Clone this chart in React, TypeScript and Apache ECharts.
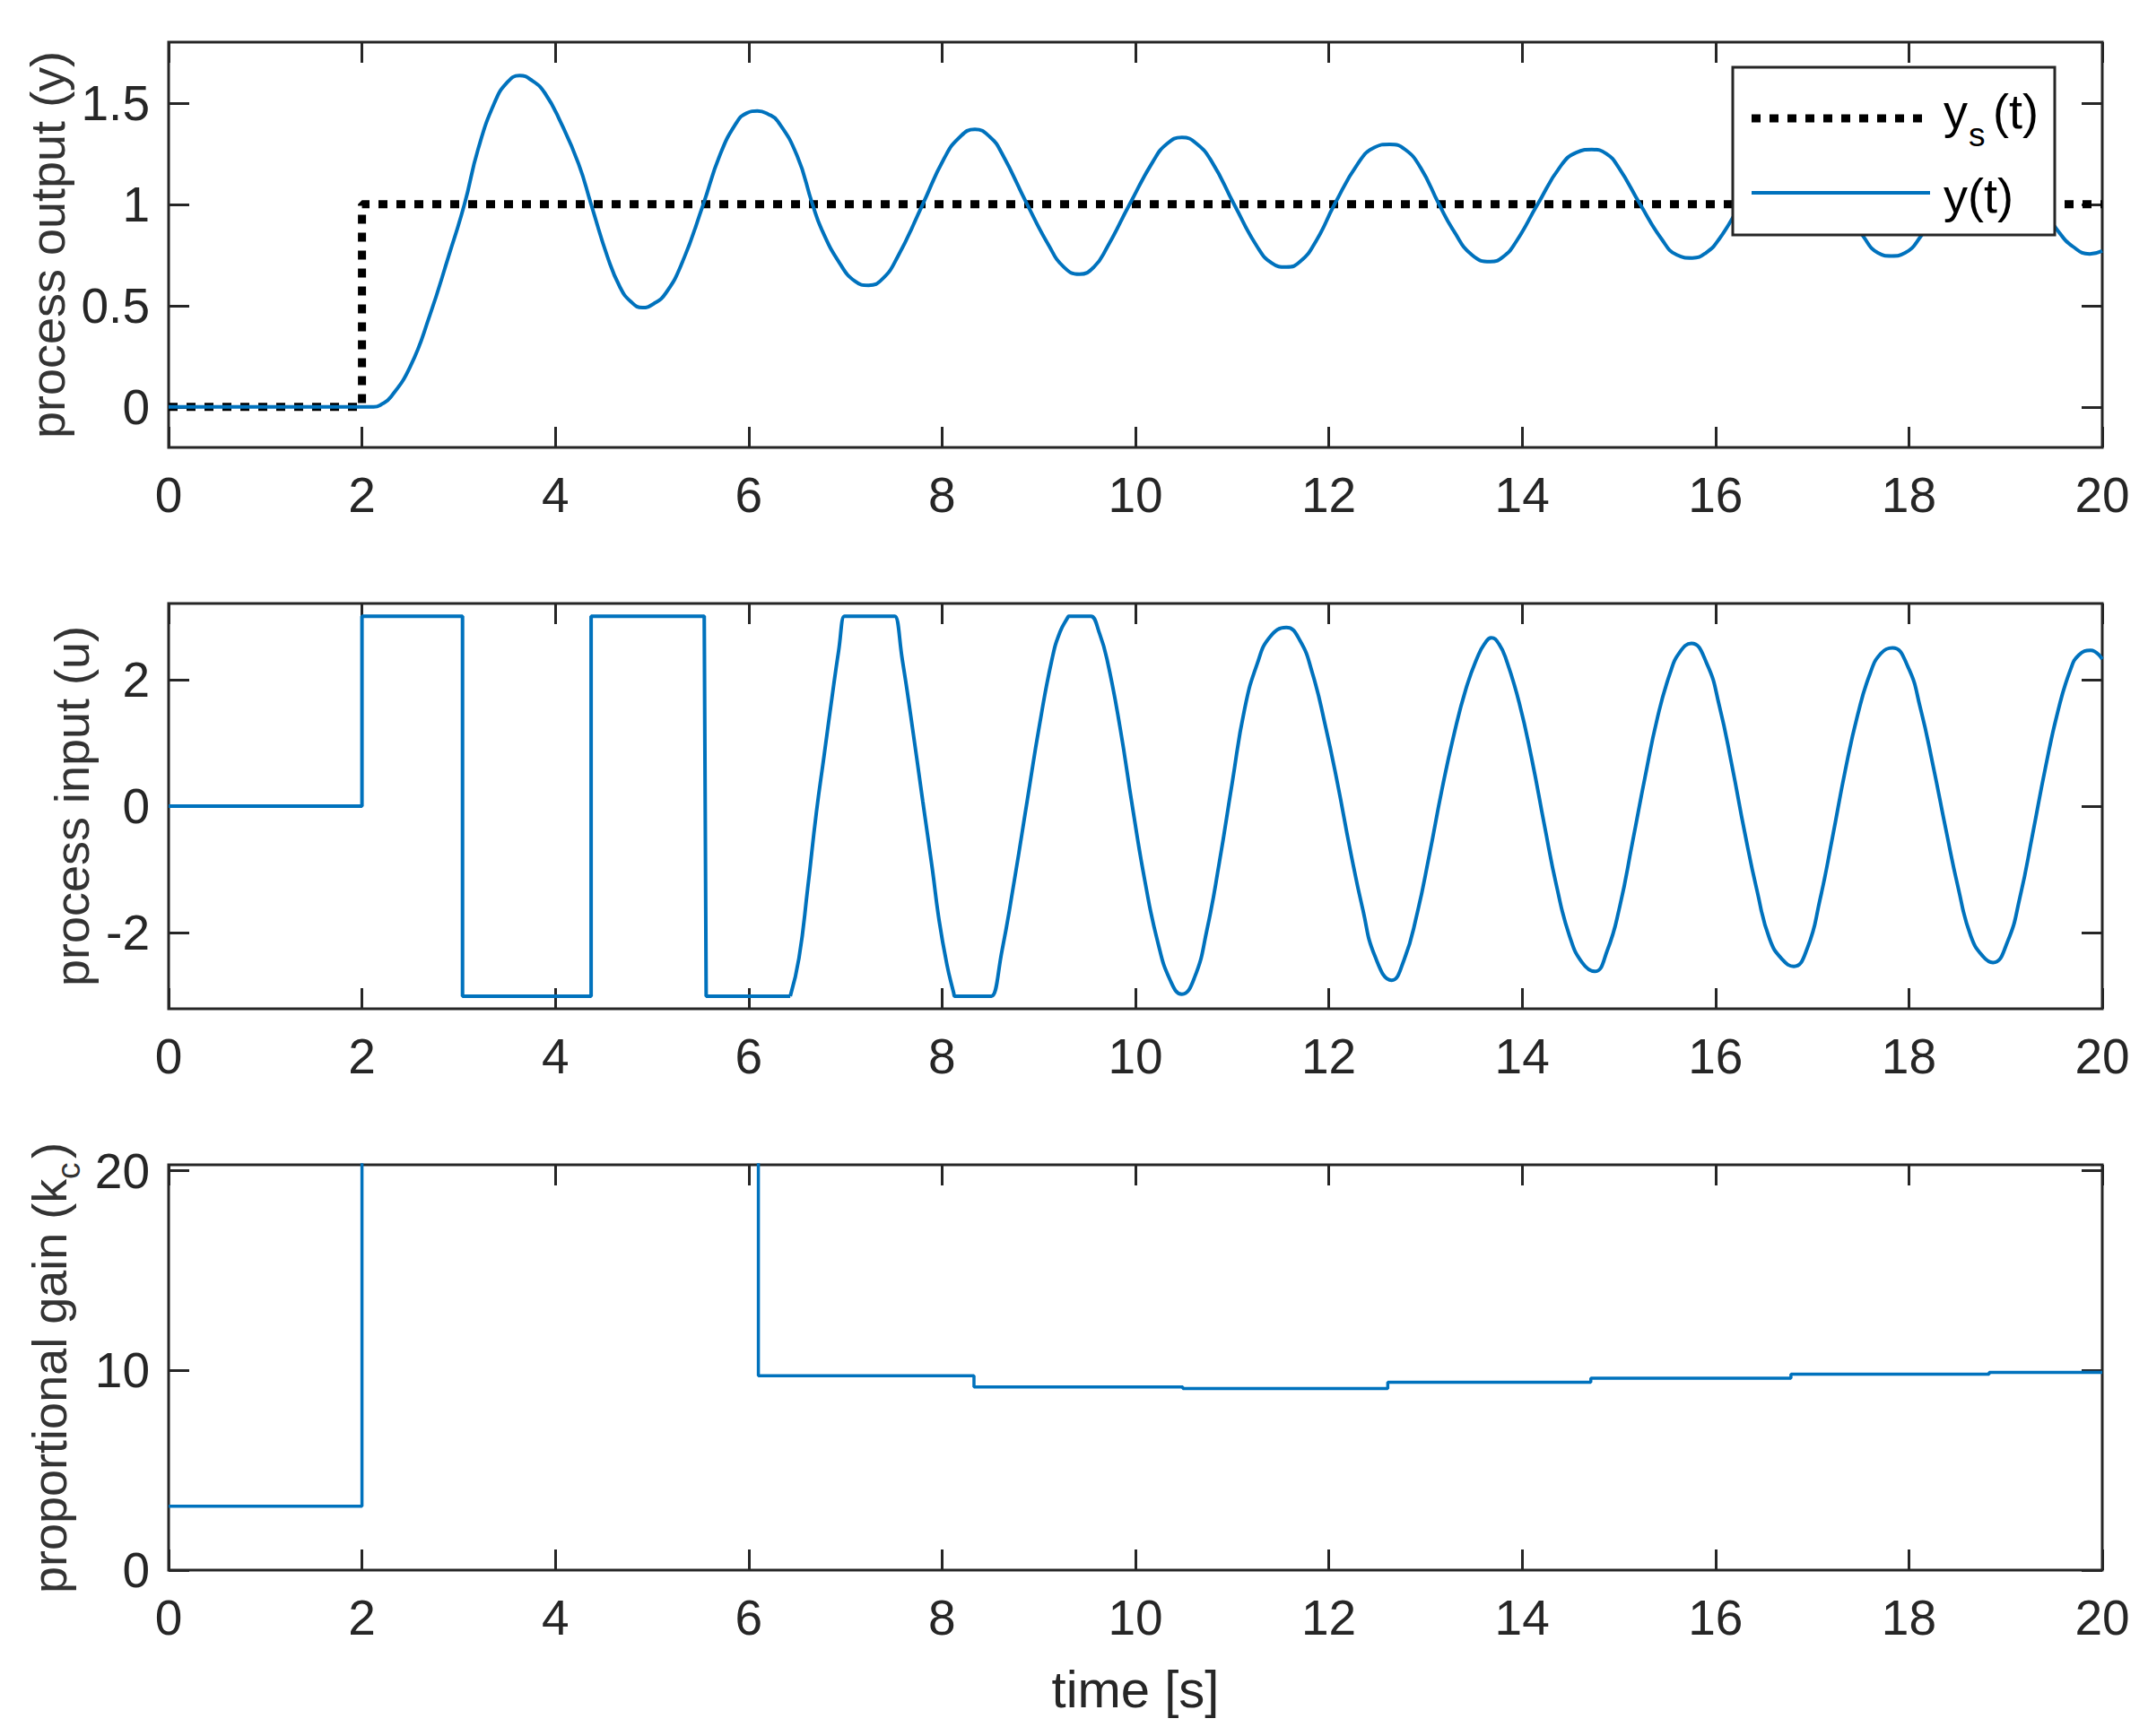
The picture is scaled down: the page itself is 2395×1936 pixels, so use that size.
import React, { useEffect, useRef } from "react";
import * as echarts from "echarts";

// ---------- data ----------
const setpointSamples: number[][] = [
  [0, 0], [2, 0], [2, 1], [20, 1],
];

const outputSamples: number[][] = [
  [0, 0], [2, 0], [2.12, 0], [2.2, 0.012], [2.3, 0.05], [2.5, 0.2], [2.7, 0.45], [2.9, 0.75],
  [3.06, 1.0], [3.2, 1.27], [3.37, 1.5], [3.5, 1.6], [3.63, 1.635], [3.76, 1.61], [3.89, 1.55],
  [4.06, 1.4], [4.24, 1.2], [4.37, 1.0], [4.54, 0.74], [4.67, 0.59], [4.78, 0.52], [4.9, 0.49],
  [5.02, 0.51], [5.14, 0.56], [5.31, 0.71], [5.53, 1.0], [5.7, 1.24], [5.87, 1.4], [5.98, 1.45],
  [6.09, 1.46], [6.2, 1.445], [6.3, 1.41], [6.5, 1.24], [6.66, 1.0], [6.76, 0.87], [6.94, 0.71],
  [7.1, 0.62], [7.24, 0.6], [7.38, 0.63], [7.54, 0.74], [7.8, 1.0], [8.02, 1.225], [8.18, 1.33],
  [8.34, 1.37], [8.5, 1.33], [8.62, 1.25], [8.88, 1.0], [9.1, 0.8], [9.26, 0.69], [9.42, 0.655],
  [9.57, 0.69], [9.71, 0.79], [9.94, 1.0], [10.18, 1.21], [10.33, 1.3], [10.48, 1.33], [10.63, 1.3],
  [10.79, 1.21], [11.02, 1.0], [11.26, 0.79], [11.41, 0.71], [11.56, 0.69], [11.71, 0.72],
  [11.87, 0.82], [12.06, 1.0], [12.3, 1.2], [12.47, 1.28], [12.63, 1.296], [12.79, 1.27],
  [12.95, 1.18], [13.14, 1.0], [13.29, 0.87], [13.48, 0.75], [13.67, 0.717], [13.8, 0.74],
  [13.93, 0.81], [14.16, 1.0], [14.4, 1.19], [14.56, 1.255], [14.72, 1.27], [14.87, 1.25],
  [15.0, 1.18], [15.22, 1.0], [15.44, 0.83], [15.6, 0.75], [15.76, 0.735], [15.9, 0.76],
  [16.04, 0.83], [16.26, 1.0], [16.5, 1.18], [16.66, 1.24], [16.8, 1.255], [16.95, 1.24],
  [17.1, 1.17], [17.32, 1.0], [17.53, 0.84], [17.68, 0.76], [17.82, 0.745], [17.96, 0.76],
  [18.12, 0.84], [18.33, 1.0], [18.56, 1.17], [18.72, 1.23], [18.86, 1.245], [19.0, 1.23],
  [19.15, 1.16], [19.36, 1.0], [19.54, 0.87], [19.7, 0.79], [19.87, 0.755], [20, 0.77],
];

// process input: switching (relay) part, drawn with straight segments
const inputRelaySamples: number[][] = [
  [0, 0], [2, 0], [2, 3], [3.04, 3], [3.04, -3], [4.37, -3], [4.37, 3],
  [5.54, 3], [5.56, -3], [6.43, -3],
];

// process input: oscillating part, drawn smooth
const inputWaveSamples: number[][] = [
  [6.43, -3], [6.52, -2.4], [6.61, -1.3], [6.7, -0.1], [6.78, 0.8], [6.86, 1.7], [6.93, 2.45],
  [6.99, 3], [7.0, 3], [7.5, 3], [7.51, 3], [7.59, 2.3], [7.67, 1.49], [7.8, 0.08], [7.9, -1.0],
  [7.97, -1.81], [8.05, -2.5], [8.12, -2.95], [8.13, -3], [8.14, -3], [8.5, -3], [8.51, -3],
  [8.62, -2.28], [8.75, -1.15], [8.88, 0.08], [9.01, 1.3], [9.14, 2.34], [9.22, 2.75], [9.3, 2.98],
  [9.31, 3], [9.32, 3], [9.53, 3], [9.54, 3], [9.63, 2.72], [9.71, 2.29], [9.84, 1.25], [9.97, -0.02],
  [10.1, -1.2], [10.23, -2.14], [10.36, -2.75], [10.48, -2.97], [10.61, -2.71], [10.74, -1.95],
  [10.87, -0.87], [11.0, 0.36], [11.13, 1.54], [11.26, 2.25], [11.39, 2.67], [11.56, 2.82],
  [11.7, 2.62], [11.83, 2.1], [11.96, 1.3], [12.09, 0.36], [12.22, -0.68], [12.35, -1.62],
  [12.48, -2.38], [12.65, -2.75], [12.78, -2.42], [12.91, -1.72], [13.04, -0.77], [13.17, 0.26],
  [13.29, 1.1], [13.42, 1.86], [13.54, 2.36], [13.61, 2.56], [13.68, 2.66], [13.76, 2.56],
  [13.84, 2.29], [13.97, 1.63],
  [14.1, 0.74], [14.23, -0.3], [14.36, -1.29], [14.49, -2.05], [14.62, -2.47], [14.75, -2.61],
  [14.88, -2.28], [15.01, -1.58], [15.14, -0.58], [15.27, 0.45], [15.4, 1.4], [15.53, 2.1],
  [15.63, 2.43], [15.75, 2.57], [15.91, 2.25], [16.04, 1.58], [16.17, 0.64], [16.3, -0.4],
  [16.43, -1.34], [16.56, -2.1], [16.69, -2.42], [16.81, -2.53], [16.95, -2.24], [17.08, -1.48],
  [17.21, -0.49], [17.34, 0.55], [17.47, 1.44], [17.6, 2.1], [17.71, 2.41], [17.83, 2.5],
  [17.99, 2.2], [18.12, 1.54], [18.25, 0.64], [18.38, -0.35], [18.51, -1.29], [18.64, -2.05],
  [18.77, -2.38], [18.87, -2.47], [19.02, -2.14], [19.15, -1.43], [19.28, -0.44], [19.41, 0.59],
  [19.54, 1.49], [19.67, 2.15], [19.76, 2.39], [19.88, 2.46], [20, 2.32],
];

// proportional gain, held until the next switching instant
const gainTimes = [0, 2, 6.1, 8.33, 10.49, 12.61, 14.71, 16.78, 18.83, 20];
const gainValues = [3.2, 24, 9.74, 9.17, 9.1, 9.41, 9.61, 9.81, 9.9, 9.9];

const outputTicks = [0, 0.5, 1, 1.5];
const inputTicks = [-2, 0, 2];
const gainTicks = [0, 10, 20];

// legend / label pieces: [main, subscript, tail]
const setpointLabel = ["y", "s", "(t)"];
const outputLabel = "y(t)";
const gainLabel = ["proportional gain (k", "c", ")"];

// ---------- styling ----------
const FONT = "'Liberation Sans', Arial, Helvetica, sans-serif";
const AX = "#262626";
const YLAB = "#333333";
const BLUE = "#0072BD";
const TICK_FS = 55;
const YLAB_FS = 54;
const XLAB_FS = 58;
const SUB_FS = 37;
const LW = 4;

const GL = 188;
const GW = 2156;
const GH = 452;
const tops = [47, 673, 1299];

function buildOption() {
  const grids = tops.map((t) => ({
    left: GL,
    top: t,
    width: GW,
    height: GH,
    show: true,
    borderColor: AX,
    borderWidth: 3,
    backgroundColor: "transparent",
    containLabel: false,
    outerBoundsMode: "none",
  }));

  const tick = (customValues?: number[]) => ({
    show: true,
    inside: true,
    length: 23,
    lineStyle: { color: AX, width: 3 },
    ...(customValues ? { customValues } : {}),
  });

  const xAxes: any[] = [];
  tops.forEach((_, i) => {
    xAxes.push({
      type: "value",
      gridIndex: i,
      position: "bottom",
      min: 0,
      max: 20,
      interval: 2,
      axisLine: { show: false, onZero: false },
      axisTick: tick(),
      axisLabel: {
        show: true,
        margin: 25,
        fontSize: TICK_FS,
        color: AX,
        fontFamily: FONT,
        showMinLabel: true,
        showMaxLabel: true,
      },
      splitLine: { show: false },
      ...(i === 2
        ? {
            name: "time [s]",
            nameLocation: "middle",
            nameGap: 103,
            nameTextStyle: { fontSize: XLAB_FS, color: AX, fontFamily: FONT },
          }
        : {}),
    });
    xAxes.push({
      type: "value",
      gridIndex: i,
      position: "top",
      min: 0,
      max: 20,
      interval: 2,
      axisLine: { show: false, onZero: false },
      axisTick: tick(),
      axisLabel: { show: false },
      splitLine: { show: false },
    });
  });

  const yDefs = [
    { min: -0.2, max: 1.8, ticks: outputTicks, name: "process output (y)", nameGap: 104 },
    { min: -3.2, max: 3.2, ticks: inputTicks, name: "process input (u)", nameGap: 78 },
    { min: 0, max: 20.3, ticks: gainTicks, name: "", nameGap: 0 },
  ];

  const yAxes: any[] = [];
  yDefs.forEach((d, i) => {
    yAxes.push({
      type: "value",
      gridIndex: i,
      position: "left",
      min: d.min,
      max: d.max,
      axisLine: { show: false, onZero: false },
      axisTick: tick(d.ticks),
      axisLabel: {
        show: true,
        customValues: d.ticks,
        margin: 21,
        fontSize: TICK_FS,
        color: AX,
        fontFamily: FONT,
      },
      splitLine: { show: false },
      ...(d.name
        ? {
            name: d.name,
            nameLocation: "middle",
            nameRotate: 90,
            nameGap: d.nameGap,
            nameTextStyle: { fontSize: YLAB_FS, color: YLAB, fontFamily: FONT },
          }
        : {}),
    });
    yAxes.push({
      type: "value",
      gridIndex: i,
      position: "right",
      min: d.min,
      max: d.max,
      axisLine: { show: false, onZero: false },
      axisTick: tick(d.ticks),
      axisLabel: { show: false },
      splitLine: { show: false },
    });
  });

  const gainSamples = gainTimes.map((t, i) => [t, gainValues[i]]);

  const series: any[] = [
    {
      name: "ys",
      type: "line",
      xAxisIndex: 0,
      yAxisIndex: 0,
      data: setpointSamples,
      showSymbol: false,
      symbol: "none",
      silent: true,
      z: 2,
      lineStyle: { color: "#000", width: 9, type: [10, 10], cap: "butt" },
    },
    {
      name: "y",
      type: "line",
      xAxisIndex: 0,
      yAxisIndex: 0,
      data: outputSamples,
      smooth: 0.5,
      showSymbol: false,
      symbol: "none",
      silent: true,
      z: 3,
      lineStyle: { color: BLUE, width: LW },
    },
    {
      type: "line",
      xAxisIndex: 2,
      yAxisIndex: 2,
      data: inputRelaySamples,
      showSymbol: false,
      symbol: "none",
      silent: true,
      z: 3,
      lineStyle: { color: BLUE, width: LW },
    },
    {
      type: "line",
      xAxisIndex: 2,
      yAxisIndex: 2,
      data: inputWaveSamples,
      smooth: 0.5,
      showSymbol: false,
      symbol: "none",
      silent: true,
      z: 3,
      lineStyle: { color: BLUE, width: LW },
    },
    {
      type: "line",
      xAxisIndex: 4,
      yAxisIndex: 4,
      data: gainSamples,
      step: "end",
      showSymbol: false,
      symbol: "none",
      silent: true,
      z: 3,
      lineStyle: { color: BLUE, width: 3.5 },
    },
  ];

  const txt = (text: string, x: number, y: number, size: number, fill: string) => ({
    type: "text",
    x,
    y,
    style: { text, fontSize: size, fontFamily: FONT, fill, align: "left", verticalAlign: "middle" },
  });

  const graphic: any[] = [
    // legend
    {
      type: "rect",
      z: 100,
      shape: { x: 1932, y: 75, width: 359, height: 187 },
      style: { fill: "#fff", stroke: AX, lineWidth: 3 },
    },
    {
      type: "line",
      z: 101,
      shape: { x1: 1953, y1: 132, x2: 2143, y2: 132 },
      style: { stroke: "#000", lineWidth: 9, lineDash: [10, 10] },
    },
    {
      type: "line",
      z: 101,
      shape: { x1: 1953, y1: 215, x2: 2152, y2: 215 },
      style: { stroke: BLUE, lineWidth: LW },
    },
    { ...txt(setpointLabel[0], 2167, 124, 54, "#000"), z: 101 },
    { ...txt(setpointLabel[1], 2195, 150, SUB_FS, "#000"), z: 101 },
    { ...txt(setpointLabel[2], 2222, 124, 54, "#000"), z: 101 },
    { ...txt(outputLabel, 2167, 218, 54, "#000"), z: 101 },
    // y label of the gain panel (with subscript), rotated to read bottom-to-top
    {
      type: "group",
      x: 55,
      y: 1525,
      rotation: Math.PI / 2,
      children: [
        txt(gainLabel[0], -252, 0, YLAB_FS, YLAB),
        txt(gainLabel[1], 210, 21, SUB_FS, YLAB),
        txt(gainLabel[2], 233, 0, YLAB_FS, YLAB),
      ],
    },
  ];

  return {
    animation: false,
    backgroundColor: "#fff",
    textStyle: { fontFamily: FONT },
    grid: grids,
    xAxis: xAxes,
    yAxis: yAxes,
    series,
    graphic,
  };
}

export default function App() {
  const ref = useRef<HTMLDivElement>(null);
  useEffect(() => {
    if (!ref.current) return;
    const chart = echarts.init(ref.current, null, { renderer: "svg" });
    chart.setOption(buildOption() as any);
    return () => {
      chart.dispose();
    };
  }, []);
  return (
    <div
      ref={ref}
      style={{
        position: "absolute",
        left: 0,
        top: 0,
        width: "2395px",
        height: "1936px",
        background: "#fff",
      }}
    />
  );
}
